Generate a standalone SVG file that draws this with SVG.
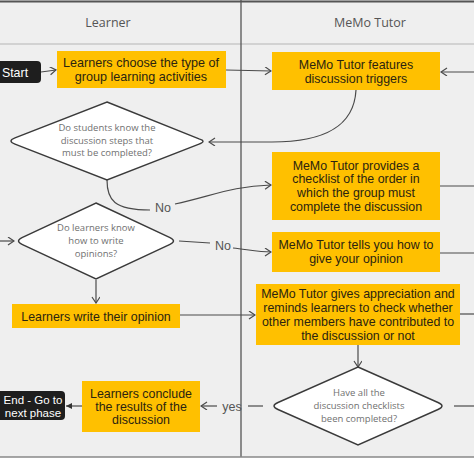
<svg xmlns="http://www.w3.org/2000/svg" width="474" height="474" viewBox="0 0 474 474">
<defs>
<marker id="ah" markerWidth="8" markerHeight="10" refX="7" refY="4" orient="auto" markerUnits="userSpaceOnUse">
<path d="M1,0 L7,4 L1,8" fill="none" stroke="#4a4a4a" stroke-width="1.2"/>
</marker>
<marker id="ahf" markerWidth="8" markerHeight="8" refX="6" refY="3" orient="auto" markerUnits="userSpaceOnUse">
<path d="M0,0 L6,3 L0,6 Z" fill="#333"/>
</marker>
<style>
.bx{fill:#FFC000;}
.bt{font-family:"Liberation Sans",Arial,sans-serif;font-size:12.4px;fill:#2b2410;text-anchor:middle;}
.dm{fill:#fff;stroke:#3a3a3a;stroke-width:1.4;}
.dt{font-family:"Open Sans","DejaVu Sans",sans-serif;font-size:9.5px;fill:#707070;text-anchor:middle;}
.term{fill:#1e1e1e;}
.tt{font-family:"Liberation Sans",Arial,sans-serif;font-size:12.4px;fill:#fff;text-anchor:middle;}
.hd{font-family:"Open Sans","DejaVu Sans",sans-serif;font-size:12.5px;fill:#555;text-anchor:middle;}
.ln{fill:none;stroke:#4a4a4a;stroke-width:1.2;}
.lb{font-family:"Liberation Sans",Arial,sans-serif;font-size:12.5px;fill:#555;text-anchor:middle;}
</style>
</defs>
<rect x="0" y="0" width="474" height="474" fill="#ffffff"/>
<rect x="0" y="0" width="474" height="457" fill="#efefef"/>
<g id="lanes">
<line x1="0" y1="1.5" x2="474" y2="1.5" stroke="#555" stroke-width="2"/>
<line x1="0" y1="44" x2="474" y2="44" stroke="#b5b5b5" stroke-width="1.2"/>
<line x1="241" y1="0" x2="241" y2="457" stroke="#555" stroke-width="1.3"/>
<line x1="0" y1="457" x2="474" y2="457" stroke="#888" stroke-width="1.3"/>
<text class="hd" x="108" y="27">Learner</text>
<text class="hd" x="370" y="27">MeMo Tutor</text>
</g>
<g id="connectors">
<path class="ln" d="M41,72 L56,70" marker-end="url(#ah)"/>
<path class="ln" d="M226,70 L271,71" marker-end="url(#ah)"/>
<path class="ln" d="M474,72 L441,72" marker-end="url(#ah)"/>
<path class="ln" d="M356,90 C354,128 322,142 272,142 L209,142" marker-end="url(#ah)"/>
<path class="ln" d="M107,180 C107,200 114,210 150,210"/>
<text class="lb" x="163" y="211.5">No</text>
<path class="ln" d="M175,204 C212,196 232,186 271,185" marker-end="url(#ah)"/>
<path class="ln" d="M440,186 L474,186"/>
<path class="ln" d="M0,241 L14,241" marker-end="url(#ah)"/>
<path class="ln" d="M179,241 L210,243"/>
<text class="lb" x="223" y="250">No</text>
<path class="ln" d="M233,248 C250,250 260,252 271,252" marker-end="url(#ah)"/>
<path class="ln" d="M440,253 L474,253"/>
<path class="ln" d="M96,280 L96,303" marker-end="url(#ah)"/>
<path class="ln" d="M180,315 L255,315" marker-end="url(#ah)"/>
<path class="ln" d="M460,314 L474,314"/>
<path class="ln" d="M358,345 L358,367" marker-end="url(#ah)"/>
<path class="ln" d="M454,406 L474,406"/>
<path class="ln" d="M263,406 L248,406"/>
<text class="lb" x="232" y="410.5">yes</text>
<path class="ln" d="M217,406 L201,406" marker-end="url(#ah)"/>
<path class="ln" d="M82,406 L66,406" marker-end="url(#ahf)" stroke="#333"/>
</g>
<g id="start">
<rect class="term" x="-10" y="61" width="51" height="22" rx="4"/>
<text class="tt" x="15" y="76.5">Start</text>
</g>
<g id="choose">
<rect class="bx" x="57" y="51" width="169" height="37"/>
<text class="bt" x="141" y="67" style="font-size:12.6px">Learners choose the type of</text>
<text class="bt" x="141" y="81" style="font-size:12.6px">group learning activities</text>
</g>
<g id="triggers">
<rect class="bx" x="272" y="52" width="168" height="38"/>
<text class="bt" x="356" y="68.5">MeMo Tutor features</text>
<text class="bt" x="356" y="82.5">discussion triggers</text>
</g>
<g id="q-steps">
<path class="dm" d="M107,102 L199,138.9 Q207,141 199,144.1 L107,180 L15,144.1 Q7,141 15,137.9 Z"/>
<text class="dt" x="107" y="131.4">Do students know the</text>
<text class="dt" x="107" y="143.8">discussion steps that</text>
<text class="dt" x="107" y="156.4">must be completed?</text>
</g>
<g id="checklist">
<rect class="bx" x="272" y="152" width="168" height="68"/>
<text class="bt" x="356" y="169.5">MeMo Tutor provides a</text>
<text class="bt" x="356" y="183.2">checklist of the order in</text>
<text class="bt" x="356" y="196.9">which the group must</text>
<text class="bt" x="356" y="210.6">complete the discussion</text>
</g>
<g id="q-opinions">
<path class="dm" d="M96,203 L170,237.7 Q177,241 170,244.3 L96,279 L22,244.3 Q15,241 22,237.7 Z"/>
<text class="dt" x="96" y="231.4">Do learners know</text>
<text class="dt" x="96" y="244.4">how to write</text>
<text class="dt" x="96" y="256.6">opinions?</text>
</g>
<g id="tells">
<rect class="bx" x="272" y="232" width="168" height="40"/>
<text class="bt" x="356" y="248.5">MeMo Tutor tells you how to</text>
<text class="bt" x="356" y="262.5">give your opinion</text>
</g>
<g id="write">
<rect class="bx" x="12" y="304" width="168" height="24"/>
<text class="bt" x="96" y="320.5">Learners write their opinion</text>
</g>
<g id="appreciation">
<rect class="bx" x="256" y="284" width="204" height="61"/>
<text class="bt" x="358" y="297.5">MeMo Tutor gives appreciation and</text>
<text class="bt" x="358" y="311.5">reminds learners to check whether</text>
<text class="bt" x="358" y="325.5">other members have contributed to</text>
<text class="bt" x="358" y="339.5">the discussion or not</text>
</g>
<g id="q-complete">
<path class="dm" d="M358,367 L438,402.5 Q446,406 438,409.5 L358,445 L278,409.5 Q270,406 278,402.5 Z"/>
<text class="dt" x="359" y="396.4">Have all the</text>
<text class="dt" x="359" y="409.4">discussion checklists</text>
<text class="dt" x="359" y="422.4">been completed?</text>
</g>
<g id="conclude">
<rect class="bx" x="82" y="381" width="118" height="51"/>
<text class="bt" x="141" y="397.5">Learners conclude</text>
<text class="bt" x="141" y="410.5">the results of the</text>
<text class="bt" x="141" y="423.5">discussion</text>
</g>
<g id="end">
<rect class="term" x="-10" y="391" width="75" height="29" rx="4"/>
<text class="tt" x="33" y="403.5" style="font-size:11.5px">End - Go to</text>
<text class="tt" x="33" y="417" style="font-size:11.5px">next phase</text>
</g>
</svg>
